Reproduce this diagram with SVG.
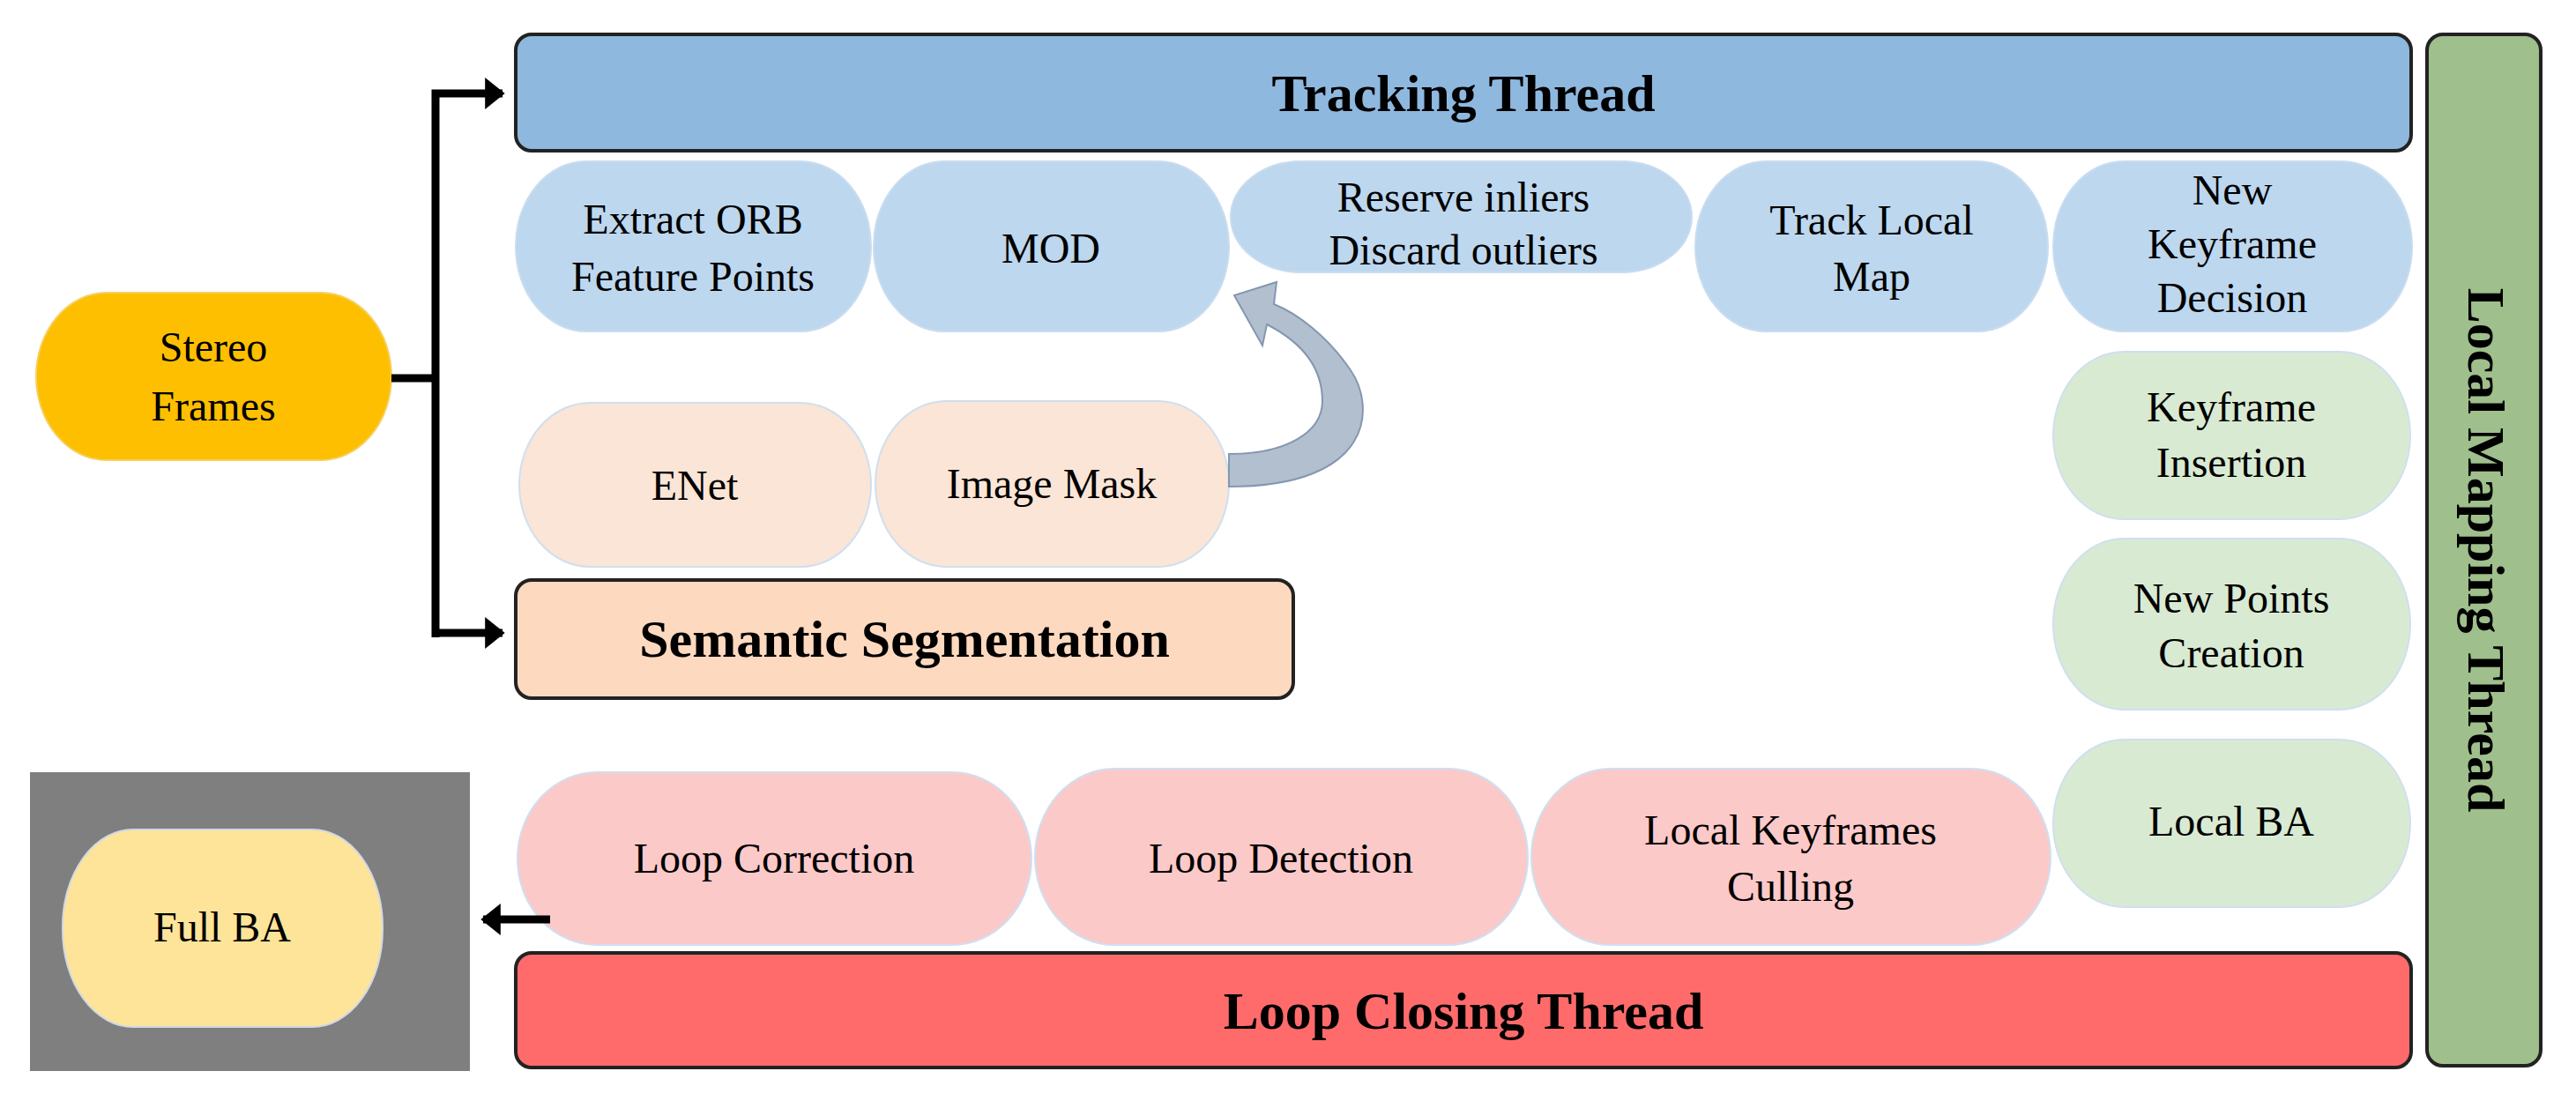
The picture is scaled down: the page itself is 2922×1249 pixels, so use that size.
<svg xmlns="http://www.w3.org/2000/svg" width="2922" height="1249" viewBox="0 0 2922 1249">
<style>
text{font-family:"Liberation Serif","Times New Roman",serif;fill:#000;text-anchor:middle}
.t{font-size:48px}
.b{font-size:60px;font-weight:bold}
.bar{stroke:#222;stroke-width:4}
.blue{fill:#bdd7ee;stroke:#c9dcf0;stroke-width:2}
.peach{fill:#fbe5d6;stroke:#cfdff0;stroke-width:2}
.green{fill:#d9ead3;stroke:#cfdff0;stroke-width:2}
.pink{fill:#fcc9c9;stroke:#cfdff0;stroke-width:2}
.con{fill:none;stroke:#000;stroke-width:9}
</style>
<defs>
<marker id="ah" markerWidth="4" markerHeight="4" refX="2.2" refY="2" orient="auto" markerUnits="strokeWidth"><path d="M0,0 L2.5,2 L0,4 z" fill="#000"/></marker>
</defs>
<rect width="2922" height="1249" fill="#fff"/>
<g id="tracking"><rect class="bar" x="585" y="39" width="2150" height="132" rx="18" fill="#8fb8df"/><text class="b" x="1660" y="126">Tracking Thread</text></g>
<g id="localmapping"><rect class="bar" x="2753" y="39" width="129" height="1170" rx="18" fill="#9fbf8c"/><text class="b" transform="translate(2800,624) rotate(90)" x="0" y="0">Local Mapping Thread</text></g>
<g id="loopclosing"><rect class="bar" x="585" y="1081" width="2150" height="130" rx="18" fill="#ff6b6b"/><text class="b" x="1660" y="1167">Loop Closing Thread</text></g>
<g id="semseg"><rect class="bar" x="585" y="658" width="882" height="134" rx="18" fill="#fdd9bf"/><text class="b" x="1026" y="745">Semantic Segmentation</text></g>
<g id="stereo"><rect x="41" y="332" width="403" height="190" rx="80" ry="95" fill="#fdbf00" stroke="#f5d060" stroke-width="2"/><text class="t" x="242" y="410" font-size="54">Stereo</text><text class="t" x="242" y="477" font-size="54">Frames</text></g>
<g id="fullba"><rect x="34" y="876" width="499" height="339" fill="#7f7f7f"/><rect x="71" y="941" width="363" height="224" rx="80" ry="110" fill="#fde499" stroke="#d0d8e8" stroke-width="2"/><text class="t" x="252" y="1068" font-size="54">Full BA</text></g>
<g id="extract"><rect class="blue" x="585" y="183" width="403" height="193" rx="80" ry="96"/><text class="t" x="786" y="265">Extract ORB</text><text class="t" x="786" y="330">Feature Points</text></g>
<g id="mod"><rect class="blue" x="991" y="183" width="403" height="193" rx="80" ry="96"/><text class="t" x="1192" y="298">MOD</text></g>
<g id="reserve"><rect class="blue" x="1396" y="183" width="523" height="126" rx="80" ry="63"/><text class="t" x="1660" y="240">Reserve inliers</text><text class="t" x="1660" y="300">Discard outliers</text></g>
<g id="tracklocal"><rect class="blue" x="1923" y="183" width="400" height="193" rx="80" ry="96"/><text class="t" x="2123" y="266">Track Local</text><text class="t" x="2123" y="330">Map</text></g>
<g id="newkf"><rect class="blue" x="2329" y="183" width="407" height="193" rx="80" ry="96"/><text class="t" x="2532" y="232">New</text><text class="t" x="2532" y="293">Keyframe</text><text class="t" x="2532" y="354">Decision</text></g>
<g id="kfinsert"><rect class="green" x="2329" y="399" width="405" height="190" rx="80" ry="95"/><text class="t" x="2531" y="478">Keyframe</text><text class="t" x="2531" y="541">Insertion</text></g>
<g id="newpoints"><rect class="green" x="2329" y="611" width="405" height="194" rx="80" ry="97"/><text class="t" x="2531" y="695">New Points</text><text class="t" x="2531" y="757">Creation</text></g>
<g id="localba"><rect class="green" x="2329" y="839" width="405" height="190" rx="80" ry="95"/><text class="t" x="2531" y="948">Local BA</text></g>
<g id="enet"><rect class="peach" x="589" y="457" width="399" height="186" rx="80" ry="93"/><text class="t" x="788" y="567">ENet</text></g>
<g id="imagemask"><rect class="peach" x="993" y="455" width="401" height="188" rx="80" ry="94"/><text class="t" x="1193" y="565">Image Mask</text></g>
<g id="loopcorr"><rect class="pink" x="587" y="876" width="583" height="196" rx="90" ry="98"/><text class="t" x="878" y="990">Loop Correction</text></g>
<g id="loopdet"><rect class="pink" x="1174" y="872" width="559" height="200" rx="90" ry="100"/><text class="t" x="1453" y="990">Loop Detection</text></g>
<g id="culling"><rect class="pink" x="1737" y="872" width="589" height="200" rx="90" ry="100"/><text class="t" x="2031" y="958">Local Keyframes</text><text class="t" x="2031" y="1022">Culling</text></g>
<g id="connectors">
<path class="con" d="M444,429 H494"/>
<path class="con" d="M494,723 V106 H570" marker-end="url(#ah)"/>
<path class="con" d="M494,718 H570" marker-end="url(#ah)"/>
<path class="con" d="M624,1043 H548" marker-end="url(#ah)"/>
<path d="M1394,552 C1560,552 1560,460 1532,420 C1505,380 1470,355 1445,345 L1448,320 L1400,335 L1432,392 L1437,368 C1480,390 1500,420 1500,455 C1500,490 1460,515 1394,515 Z" fill="#b2bfcf" stroke="#8497b0" stroke-width="2"/>
</g>
</svg>
